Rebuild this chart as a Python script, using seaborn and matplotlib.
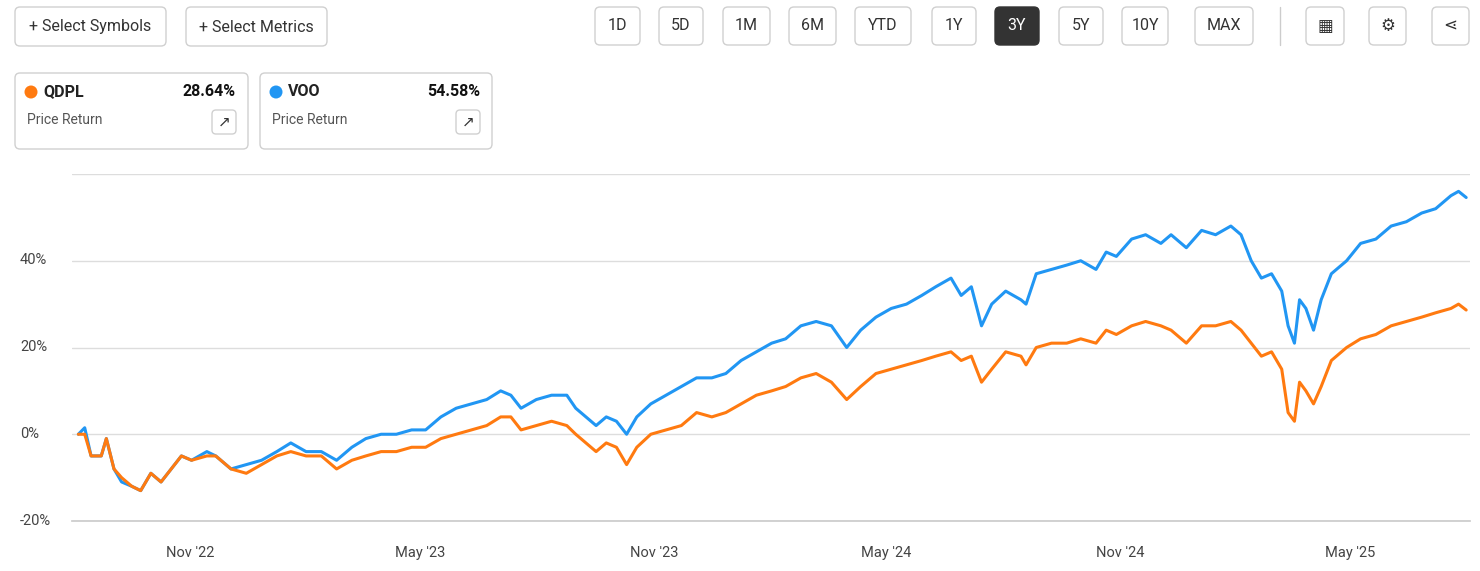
import matplotlib
matplotlib.use("Agg")
import matplotlib.pyplot as plt
import seaborn as sns
import pandas as pd
import numpy as np
from matplotlib.patches import FancyBboxPatch, Ellipse
from matplotlib.lines import Line2D

sns.set_theme(style="white")
plt.rcParams['font.family'] = ['Roboto', 'DejaVu Sans']

start_date = "2022-11-01"
day_offsets = [-88,-83,-78,-70,-66,-60,-54,-46,-39,-31,-23,-15,-7,1,13,20,32,44,56,68,79,91,103,115,127,138,150,162,174,185,197,209,221,233,244,252,260,272,284,296,303,311,319,327,335,343,351,362,374,386,398,410,421,433,445,457,468,480,492,504,516,527,539,551,563,575,586,598,606,614,622,630,641,653,657,665,677,689,700,712,720,728,740,751,763,771,783,795,806,818,826,834,842,850,858,863,868,872,877,883,889,897,909,920,932,944,956,968,979,991,997,1003]
voo = [0,1.5,-5,-5,-1,-8,-11,-12,-13,-9,-11,-8,-5,-6,-4,-5,-8,-7,-6,-4,-2,-4,-4,-6,-3,-1,0,0,1,1,4,6,7,8,10,9,6,8,9,9,6,4,2,4,3,0,4,7,9,11,13,13,14,17,19,21,22,25,26,25,20,24,27,29,30,32,34,36,32,34,25,30,33,31,30,37,38,39,40,38,42,41,45,46,44,46,43,47,46,48,46,40,36,37,33,25,21,31,29,24,31,37,40,44,45,48,49,51,52,55,56,54.58]
qdpl = [0,0,-5,-5,-1,-8,-10,-12,-13,-9,-11,-8,-5,-6,-5,-5,-8,-9,-7,-5,-4,-5,-5,-8,-6,-5,-4,-4,-3,-3,-1,0,1,2,4,4,1,2,3,2,0,-2,-4,-2,-3,-7,-3,0,1,2,5,4,5,7,9,10,11,13,14,12,8,11,14,15,16,17,18,19,17,18,12,15,19,18,16,20,21,21,22,21,24,23,25,26,25,24,21,25,25,26,24,21,18,19,15,5,3,12,10,7,11,17,20,22,23,25,26,27,28,29,30,28.64]
tick_dates = ["2022-11-01","2023-05-01","2023-11-01","2024-05-01","2024-11-01","2025-05-01"]
tick_labels = ["Nov '22","May '23","Nov '23","May '24","Nov '24","May '25"]
y_ticks = [-20, 0, 20, 40]
y_labels = ["-20%", "0%", "20%", "40%"]
names = ["QDPL", "VOO"]
finals = ["28.64%", "54.58%"]
colors = ["#FF7A10", "#2196F3"]
buttons = ["1D","5D","1M","6M","YTD","1Y","3Y","5Y","10Y","MAX"]

dates = pd.Timestamp(start_date) + pd.to_timedelta(day_offsets, unit="D")
df = pd.concat([pd.DataFrame({"date": dates, "ret": qdpl, "sym": "QDPL"}),
                pd.DataFrame({"date": dates, "ret": voo, "sym": "VOO"})])

W, H = 1480, 571
fig = plt.figure(figsize=(W/100, H/100), dpi=100)
fig.patch.set_facecolor("white")
ax = fig.add_axes([72/W, 1-521/H, (1470-72)/W, (521-174)/H])
sns.lineplot(data=df, x="date", y="ret", hue="sym", palette=dict(zip(names, colors)),
             linewidth=2.2, legend=False, ax=ax, hue_order=["VOO", "QDPL"])
ax.set_xlim(pd.Timestamp(start_date) - pd.Timedelta(days=93), pd.Timestamp(start_date) + pd.Timedelta(days=1006))
ax.set_ylim(-20, 60)
ax.set_yticks([-20, 0, 20, 40, 60])
ax.set_yticklabels([])
ax.tick_params(axis="y", length=0)
ax.grid(axis="y", color="#dddddd", linewidth=1)
ax.set_xticks(pd.to_datetime(tick_dates))
ax.set_xticklabels(tick_labels, fontsize=10.5, color="#444444")
ax.tick_params(axis="x", length=6, color="#cccccc", pad=12)
for s in ["top", "right", "left"]:
    ax.spines[s].set_visible(False)
ax.spines["bottom"].set_color("#cccccc")
ax.set_xlabel(""); ax.set_ylabel("")
for v, l in zip(y_ticks, y_labels):
    yp = 434 - v * 87 / 20
    fig.text(20/W, 1 - yp/H, l, fontsize=10.5, color="#444444", va="center", ha="left")

def fx(x): return x / W
def fy(y): return 1 - y / H
def box(x0, y0, x1, y1, fc="white", ec="#d0d0d0", r=5):
    fig.patches.append(FancyBboxPatch((fx(x0), fy(y1)), fx(x1)-fx(x0), fy(y0)-fy(y1),
        boxstyle=f"round,pad=0,rounding_size={r/W}", transform=fig.transFigure,
        fc=fc, ec=ec, lw=1, mutation_aspect=W/H))

box(15, 7, 166, 46); fig.text(fx(90), fy(27), "+ Select Symbols", ha="center", va="center", fontsize=11.5, color="#333")
box(186, 7, 327, 46); fig.text(fx(256), fy(27), "+ Select Metrics", ha="center", va="center", fontsize=11.5, color="#333")
bx = [(595,640),(659,703),(723,770),(789,836),(855,911),(932,976),(995,1039),(1059,1103),(1122,1168),(1195,1253)]
for (a, b), t in zip(bx, buttons):
    sel = t == "3Y"
    box(a, 7, b, 45, fc="#333333" if sel else "white", ec="#333333" if sel else "#d0d0d0")
    fig.text(fx((a+b)/2), fy(26), t, ha="center", va="center", fontsize=11.5, color="white" if sel else "#333")
fig.lines.append(Line2D([fx(1280)]*2, [fy(7), fy(45)], transform=fig.transFigure, color="#cccccc", lw=1))
icons = ["▦", "⚙", "⋖"]
for (a, b), ic in zip([(1306,1344),(1369,1406),(1432,1469)], icons):
    box(a, 7, b, 45)
    fig.text(fx((a+b)/2), fy(26), ic, ha="center", va="center", fontsize=12, color="#333", family="DejaVu Sans")

for (a, b), n, f, c in zip([(15,248),(260,492)], names, finals, colors):
    box(a, 73, b, 149)
    fig.patches.append(Ellipse((fx(a+16), fy(92)), 13/W, 13/H, transform=fig.transFigure, fc=c, ec="none"))
    fig.text(fx(a+28), fy(92), n, fontsize=11.5, weight="bold", va="center", color="#222")
    fig.text(fx(b-12), fy(92), f, fontsize=11.5, weight="bold", va="center", ha="right", color="#111")
    fig.text(fx(a+12), fy(120), "Price Return", fontsize=10, va="center", color="#555")
    box(b-36, 110, b-12, 134, r=4)
    fig.text(fx(b-24), fy(122), "↗", fontsize=11, ha="center", va="center", color="#333", family="DejaVu Sans")

fig.savefig("out.png", dpi=100)
